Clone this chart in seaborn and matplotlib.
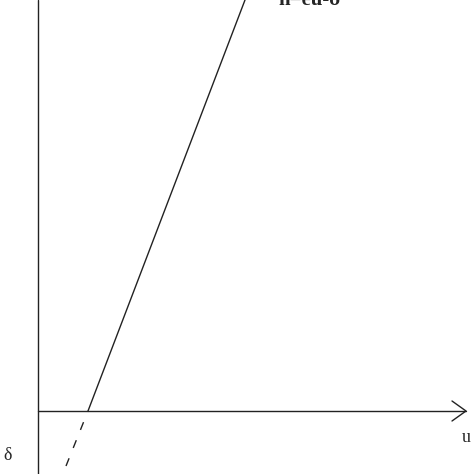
import pandas as pd
import matplotlib
matplotlib.use("Agg")
import matplotlib.pyplot as plt
import seaborn as sns

# pixel-space coordinates of the sketch (y grows downward)
solid_x = [88, 245]
solid_y = [411, 0]
dash_x = [66, 88]
dash_y = [466, 411]

sns.set_style("white")
plt.rcParams["font.family"] = ["Liberation Serif", "DejaVu Serif"]

fig = plt.figure(figsize=(4.74, 4.74), dpi=100)
ax = fig.add_axes([0, 0, 1, 1])
ax.set_xlim(0, 474)
ax.set_ylim(474, 0)
ax.axis("off")

solid = pd.DataFrame({"x": solid_x, "y": solid_y})
dash = pd.DataFrame({"x": dash_x, "y": dash_y})
sns.lineplot(data=solid, x="x", y="y", color="#222", lw=1, ax=ax, estimator=None, sort=False)
sns.lineplot(data=dash, x="x", y="y", color="#222", lw=1, ax=ax, estimator=None, sort=False,
             linestyle=(0, (6, 8)))

# axes
ax.plot([38, 38], [0, 474], color="#222", lw=1)
ax.plot([38, 466], [411, 411], color="#222", lw=1)
ax.plot([452, 466, 452], [401, 411, 421], color="#222", lw=1)

ax.text(278, 0, "h=eu-δ", fontsize=15, fontweight="bold", ha="left", va="center")
ax.text(466, 437, "u", fontsize=13, ha="center", va="center")
ax.text(8, 455, "δ", fontsize=13, ha="center", va="center")

fig.savefig("out.png", dpi=100)
